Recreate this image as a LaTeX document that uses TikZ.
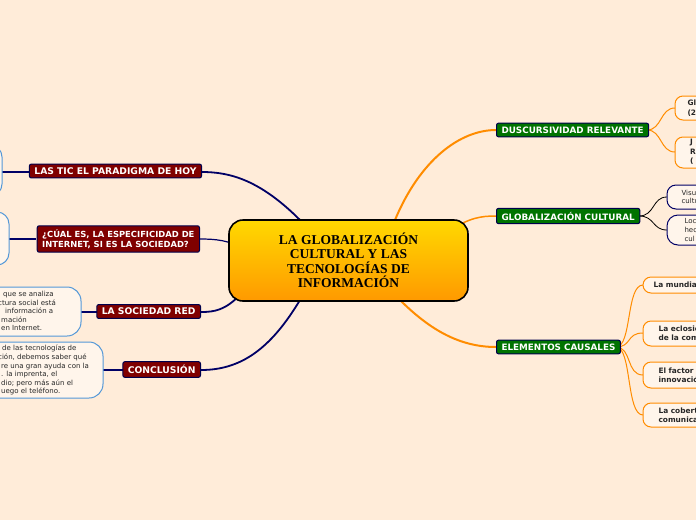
\documentclass[tikz,border=0pt]{standalone}
\usepackage{fontspec}
\setsansfont{DejaVu Sans}
\setmainfont{Liberation Serif}
\begin{document}
\begin{tikzpicture}[x=1pt,y=-1pt,
 red/.style={draw=black!70!blue,line width=1pt,fill=red!50!black,rounded corners=2pt,text=white,font=\sffamily\bfseries\fontsize{9.2}{11}\selectfont,align=left,inner xsep=5pt,inner ysep=3.5pt},
 grn/.style={red,fill=green!45!black,font=\sffamily\bfseries\fontsize{8.8}{11}\selectfont},
 lt/.style={font=\sffamily\fontsize{7}{8.6}\selectfont,align=left,text=black!85},
 lb/.style={font=\sffamily\bfseries\fontsize{7.4}{9.5}\selectfont,align=left,text=black!85},
 nv/.style={draw=black!60!blue,line width=1.8pt},
 or/.style={draw=orange!90!yellow,line width=1pt}]
\fill[orange!15!white] (0,0) rectangle (696,520);
\useasboundingbox (0,0) rectangle (696,520);
% connectors
\draw[nv] (300,220) .. controls (260,180) and (230,172) .. (202,172);
\draw[nv,line width=1.2pt] (245,250) .. controls (230,240) and (215,239) .. (200,239);
\draw[nv] (240,295) .. controls (225,310) and (215,312) .. (201,312);
\draw[nv] (300,300) .. controls (270,350) and (240,370) .. (201,370);
\draw[nv] (29,172) -- (2,172);
\draw[nv] (36,239) -- (9,239);
\draw[nv] (108,312) -- (81,312);
\draw[nv] (130,370) -- (103,370);
\draw[or,line width=2pt] (395,220) .. controls (420,160) and (460,130) .. (496,130);
\draw[or,line width=1.5pt] (450,230) .. controls (470,218) and (480,216) .. (496,216);
\draw[or,line width=2pt] (400,300) .. controls (430,330) and (460,347) .. (496,347);
\foreach \y in {108,152}{\draw[or] (647,130) .. controls (662,130) and (660,\y) .. (675,\y);}
\foreach \y in {197,230}{\draw[draw=black,line width=0.8pt] (639,216) .. controls (655,216) and (652,\y) .. (667,\y);}
\foreach \y in {285,333,375,415}{\draw[or] (616,347) .. controls (632,347) and (626,\y) .. (643,\y);}
% central
\node[draw=black,line width=1.6pt,rounded corners=14pt,top color=yellow!70!orange,bottom color=orange!80!yellow,minimum width=239pt,minimum height=81pt,align=center,font=\bfseries\fontsize{13.5}{14.5}\selectfont] (c) at (348.5,260.5) {LA GLOBALIZACIÓN\\CULTURAL Y LAS\\TECNOLOGÍAS DE\\INFORMACIÓN};
% left
\node[red,anchor=east] (a1) at (202,171) {LAS TIC EL PARADIGMA DE HOY};
\node[red,anchor=east,font=\sffamily\bfseries\fontsize{8.4}{10.5}\selectfont] (a2) at (200,239) {¿CÚAL ES, LA ESPECIFICIDAD DE\\INTERNET, SI ES LA SOCIEDAD?};
\node[red,anchor=east] (a3) at (201,311.5) {LA SOCIEDAD RED};
\node[red,anchor=east] (a4) at (201,369.5) {CONCLUSIÓN};
\draw[draw=cyan!60!blue!70,line width=1pt,fill=orange!8!white,rounded corners=12pt] (-20,145) rectangle (2,196);
\draw[draw=cyan!60!blue!70,line width=1pt,fill=orange!8!white,rounded corners=12pt] (-20,212) rectangle (9,265);
\draw[draw=cyan!60!blue!70,line width=1pt,fill=orange!8!white,rounded corners=14pt] (-20,287) rectangle (81,336);
\draw[draw=cyan!60!blue!70,line width=1pt,fill=orange!8!white,rounded corners=14pt] (-20,342) rectangle (103,398);
\node[lt,anchor=north west,inner sep=0pt] at (-2,291) {\hspace*{5pt}que se analiza\\ctura social está\\\hspace*{7pt}información a\\\hspace*{3pt}mación\\\hspace*{3pt}en Internet.};
\node[lt,anchor=north west,inner sep=0pt] at (-2,345) {\hspace*{4pt}de las tecnologías de\\ción, debemos saber qué\\\hspace*{3pt}re una gran ayuda con la\\\hspace*{3pt}. la imprenta, el\\\hspace*{3pt}dio; pero más aún el\\\hspace*{3pt}uego el teléfono.};
% right
\node[grn,anchor=west] (b1) at (496,130) {DUSCURSIVIDAD RELEVANTE};
\node[grn,anchor=west] (b2) at (496,216) {GLOBALIZACIÓN CULTURAL};
\node[grn,anchor=west] (b3) at (496,347) {ELEMENTOS CAUSALES};
\foreach \t/\b in {96/120,137/168,277/293,321/346,362/388,403/427}{
 \draw[draw=orange!90!yellow,line width=1pt,fill=orange!8!white,rounded corners=8pt] (\ifdim \t pt<200pt 675\else 643\fi,\t) rectangle (720,\b);}
\draw[draw=black!60!blue,line width=1pt,fill=orange!8!white,rounded corners=9pt] (667,185) rectangle (720,209);
\draw[draw=black!60!blue,line width=1pt,fill=orange!8!white,rounded corners=11pt] (667,215) rectangle (720,245);
\node[lb,anchor=west] at (684,108) {Gl\\(2};
\node[lb,anchor=west,inner xsep=0pt] at (690,152) {J\\R\\(};
\node[lt,anchor=west] at (678,197) {Visu\\cultu};
\node[lt,anchor=west] at (681,230) {Loc\\hec\\cul};
\node[lb,anchor=west] at (650,285) {La mundia};
\node[lb,anchor=west] at (655,333) {La eclosio\\de la com};
\node[lb,anchor=west] at (655,375) {El factor\\innovació};
\node[lb,anchor=west] at (655,415) {La cobert\\comunica};
\end{tikzpicture}
\end{document}
